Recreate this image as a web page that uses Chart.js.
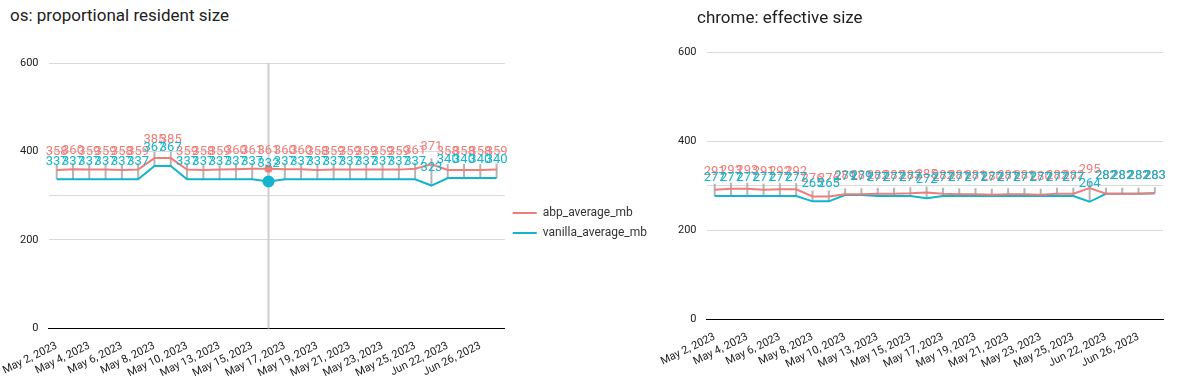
<!DOCTYPE html>
<html>
<head>
<meta charset="utf-8">
<script src="https://cdn.jsdelivr.net/npm/chart.js@4"></script>
<style>
  body { margin: 0; background: #fff; font-family: Roboto, sans-serif; overflow: hidden; }
  .title { position: absolute; font-size: 17px; color: #212121; }
  .box { position: absolute; top: 30px; height: 362px; }
</style>
</head>
<body>
<div class="box" style="left:-10px; width:676px;"><canvas id="osChart"></canvas></div>
<div class="title" style="left:10px; top:5px;">os: proportional resident size</div>
<div class="box" style="left:645px; width:540px;"><canvas id="chromeChart"></canvas></div>
<div class="title" style="left:697px; top:7px;">chrome: effective size</div>
<script>
// dates of each run
const days = ['May 2, 2023', 'May 3, 2023', 'May 4, 2023', 'May 5, 2023', 'May 6, 2023', 'May 7, 2023',
  'May 8, 2023', 'May 9, 2023', 'May 10, 2023', 'May 11, 2023', 'May 13, 2023', 'May 14, 2023',
  'May 15, 2023', 'May 16, 2023', 'May 17, 2023', 'May 18, 2023', 'May 19, 2023', 'May 20, 2023',
  'May 21, 2023', 'May 22, 2023', 'May 23, 2023', 'May 24, 2023', 'May 25, 2023', 'May 26, 2023',
  'Jun 22, 2023', 'Jun 23, 2023', 'Jun 26, 2023', 'Jun 27, 2023'];

// os: proportional resident size
const osAbp = [358, 360, 359, 359, 358, 359, 385, 385, 359, 358, 359, 360, 361, 361,
  360, 360, 358, 359, 359, 359, 359, 359, 361, 371, 358, 358, 358, 359];
const osVanilla = [337, 337, 337, 337, 337, 337, 367, 367, 337, 337, 337, 337, 337, 332,
  337, 337, 337, 337, 337, 337, 337, 337, 337, 323, 340, 340, 340, 340];

// chrome: effective size
const chromeAbp = [291, 293, 293, 291, 292, 292, 276, 276, 281, 281, 282, 282, 283, 285,
  282, 281, 281, 280, 281, 281, 280, 282, 282, 295, 282, 282, 282, 283];
const chromeVanilla = [277, 277, 277, 277, 277, 277, 265, 265, 279, 279, 277, 277, 277, 272,
  277, 277, 277, 277, 277, 277, 277, 277, 277, 264, 282, 282, 282, 283];

const yTicks = [0, 200, 400, 600];
const hoverIndex = 13;

const RED = '#ef7d7a';
const BLUE = '#12b5cb';

// grey drop lines between the two series
const dropLines = {
  id: 'dropLines',
  beforeDatasetsDraw(chart) {
    const a = chart.getDatasetMeta(0).data;
    const b = chart.getDatasetMeta(1).data;
    const ctx = chart.ctx;
    ctx.save();
    ctx.strokeStyle = '#b4b4b4';
    ctx.lineWidth = 2;
    ctx.beginPath();
    for (let i = 0; i < a.length; i++) {
      const top = Math.min(a[i].y, b[i].y) - 6;
      const bottom = Math.max(a[i].y, b[i].y);
      ctx.moveTo(a[i].x, top);
      ctx.lineTo(a[i].x, bottom);
    }
    ctx.stroke();
    ctx.restore();
  }
};

// hover crosshair
const crossHair = {
  id: 'crossHair',
  beforeDatasetsDraw(chart, args, opts) {
    if (opts.index == null) return;
    const x = chart.scales.x.getPixelForValue(opts.index);
    const ctx = chart.ctx;
    ctx.save();
    ctx.strokeStyle = '#cfcfcf';
    ctx.lineWidth = 2;
    ctx.beginPath();
    ctx.moveTo(x, chart.chartArea.top);
    ctx.lineTo(x, chart.chartArea.bottom);
    ctx.stroke();
    ctx.restore();
  }
};

// value labels over the points
const valueLabels = {
  id: 'valueLabels',
  afterDatasetsDraw(chart) {
    const ctx = chart.ctx;
    ctx.save();
    ctx.font = '13px Roboto';
    ctx.textAlign = 'center';
    ctx.textBaseline = 'middle';
    chart.data.datasets.forEach((ds, di) => {
      ctx.fillStyle = ds.borderColor;
      chart.getDatasetMeta(di).data.forEach((pt, i) => {
        ctx.fillText(ds.data[i], pt.x, pt.y - 18);
      });
    });
    ctx.restore();
  }
};

function radii(n, big) {
  const r = [];
  for (let i = 0; i < n; i++) r.push(0);
  if (big) r[hoverIndex] = big;
  return r;
}

function makeChart(id, abp, vanilla, withLegend, hover, padding) {
  return new Chart(document.getElementById(id), {
    type: 'line',
    data: {
      labels: days,
      datasets: [{
        label: 'abp_average_mb',
        data: abp,
        borderColor: RED,
        backgroundColor: RED,
        borderWidth: 2,
        pointRadius: radii(abp.length, hover ? 3 : 0),
        tension: 0
      }, {
        label: 'vanilla_average_mb',
        data: vanilla,
        borderColor: BLUE,
        backgroundColor: BLUE,
        borderWidth: 2,
        pointRadius: radii(vanilla.length, hover ? 5 : 0),
        tension: 0
      }]
    },
    options: {
      responsive: true,
      maintainAspectRatio: false,
      animation: false,
      events: [],
      layout: { padding: padding },
      scales: {
        x: {
          offset: true,
          grid: { display: false },
          border: { color: '#000', width: 1 },
          ticks: {
            autoSkip: false,
            minRotation: 26,
            maxRotation: 26,
            color: '#222',
            font: { family: 'Roboto', size: 11 },
            callback: function (v, i) { return i % 2 === 0 ? this.getLabelForValue(v) : ''; }
          }
        },
        y: {
          min: 0,
          max: 600,
          border: { display: false },
          grid: {
            drawTicks: false,
            color: c => (c.tick.value === 100 || c.tick.value === 500) ? 'rgba(0,0,0,0)' : '#d9d9d9'
          },
          ticks: {
            stepSize: 100,
            padding: 10,
            color: '#222',
            font: { family: 'Roboto', size: 11 },
            callback: v => yTicks.includes(v) ? v : ''
          }
        }
      },
      plugins: {
        legend: {
          display: withLegend,
          position: 'right',
          labels: {
            usePointStyle: true,
            pointStyle: 'line',
            pointStyleWidth: 24,
            padding: 8,
            color: '#333',
            font: { family: 'Roboto', size: 12 }
          }
        },
        tooltip: { enabled: false },
        crossHair: { index: hover ? hoverIndex : null }
      }
    },
    plugins: [dropLines, crossHair, valueLabels]
  });
}

makeChart('osChart', osAbp, osVanilla, true, true, { top: 33, left: 20, right: 9, bottom: 9 });
makeChart('chromeChart', chromeAbp, chromeVanilla, false, false, { top: 22, left: 23, right: 22, bottom: 18 });
</script>
</body>
</html>
